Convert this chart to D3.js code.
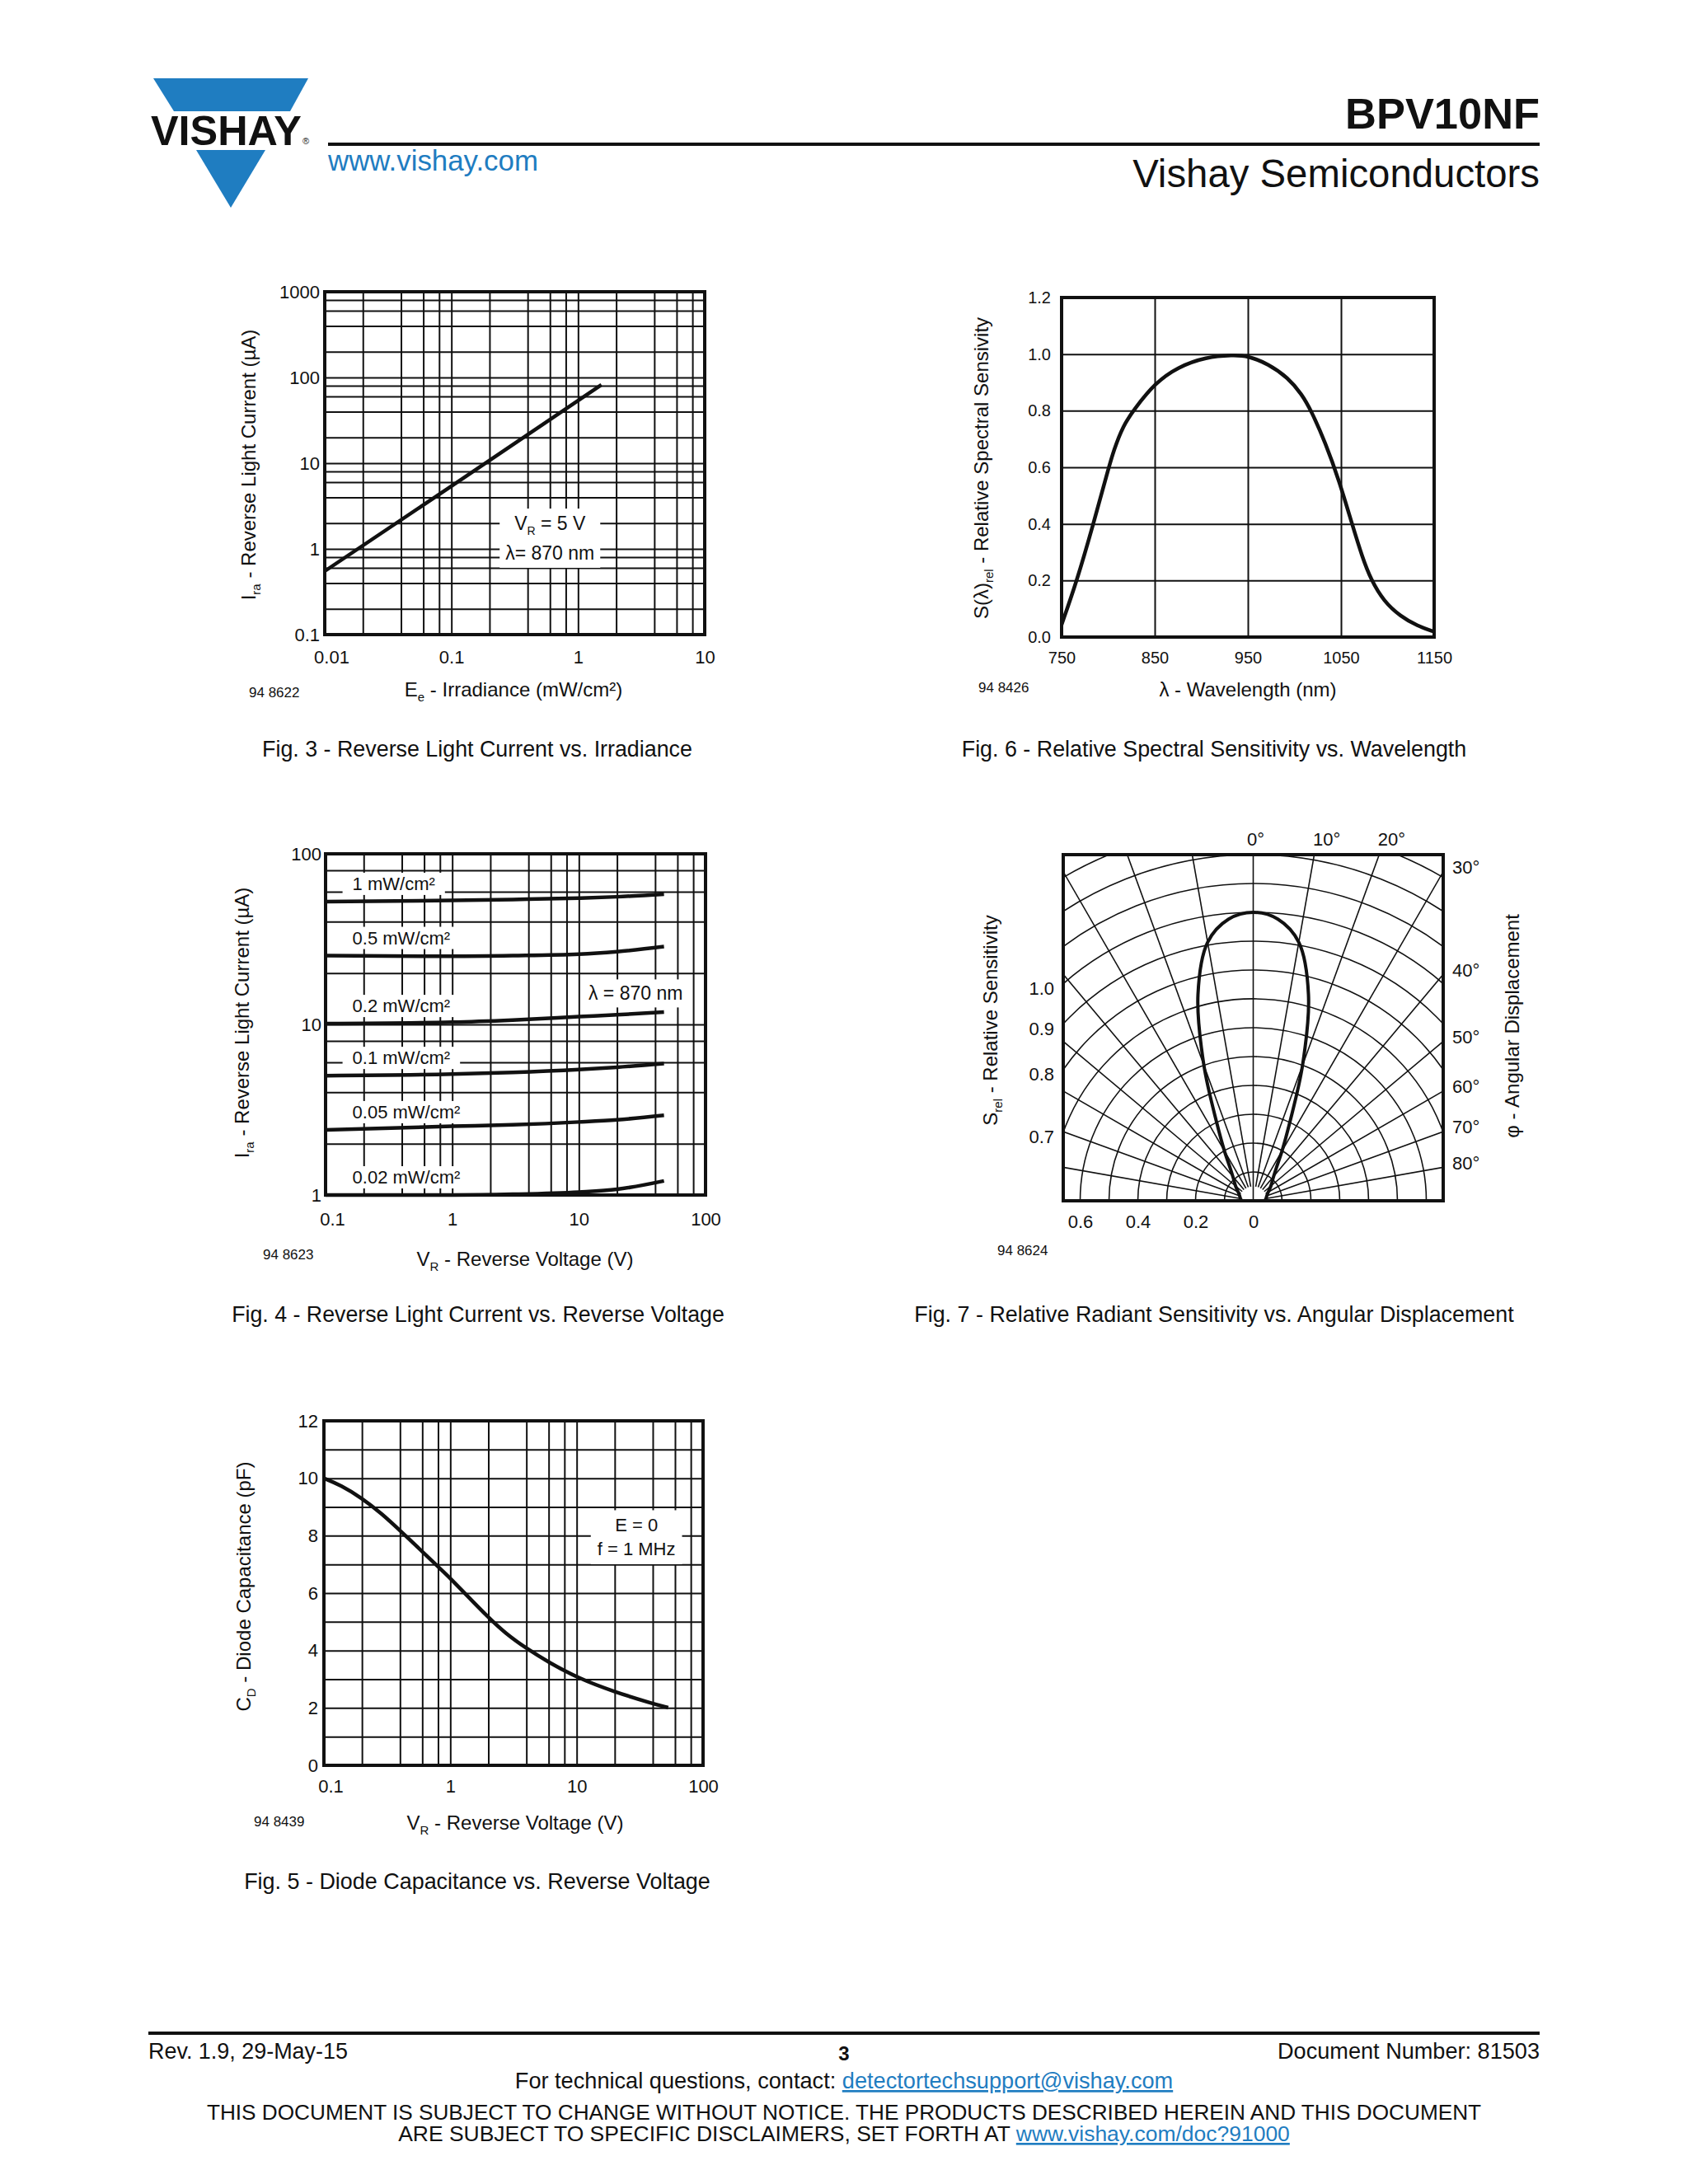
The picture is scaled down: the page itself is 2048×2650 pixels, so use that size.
<!DOCTYPE html>
<html>
<head>
<meta charset="utf-8">
<script src="https://cdn.jsdelivr.net/npm/d3@7"></script>
<style>
  body { margin: 0; background: #fff; }
  svg { display: block; }
</style>
</head>
<body>
<script>
// ---- chart data ----

// Fig. 3 - reverse light current vs irradiance (VR = 5 V)
const fig3Irradiance = [0.01, 0.1, 1.53];
const fig3Current = [0.55, 5.4, 82];

// Fig. 6 - relative spectral sensitivity
const fig6Wavelength = [750, 766, 784, 800, 806, 816, 828, 850, 875, 905, 934, 950, 972,
                        993, 1008, 1018, 1033, 1048, 1062, 1073, 1082, 1096, 1114, 1132, 1150];
const fig6Sensitivity = [0.044, 0.194, 0.398, 0.592, 0.66, 0.747, 0.805, 0.897, 0.955, 0.99, 0.997, 0.994, 0.965,
                         0.917, 0.858, 0.80, 0.689, 0.553, 0.398, 0.281, 0.204, 0.126, 0.073, 0.039, 0.019];

// Fig. 4 - reverse light current vs reverse voltage, one row per irradiance
const fig4Levels = ["1 mW/cm²", "0.5 mW/cm²", "0.2 mW/cm²", "0.1 mW/cm²", "0.05 mW/cm²", "0.02 mW/cm²"];
const fig4Voltage = [0.1, 1, 3, 10, 20, 47];
const fig4Current = [
    [52.5, 53.3, 54, 55, 56, 58],
    [25.3, 25.1, 25.3, 25.8, 26.7, 28.6],
    [10.1, 10.3, 10.6, 11.1, 11.4, 11.8],
    [5.01, 5.11, 5.23, 5.44, 5.61, 5.9],
    [2.41, 2.53, 2.58, 2.68, 2.76, 2.93],
    [1.0, 1.0, 1.01, 1.04, 1.08, 1.21]
];

// Fig. 5 - diode capacitance vs reverse voltage
const fig5Voltage = [0.1, 0.136, 0.2, 0.288, 0.4, 0.61, 0.8, 1.0, 1.35, 1.98, 2.74, 4.0, 6.0, 10, 19.8, 40, 53];
const fig5Capacitance = [10.0, 9.76, 9.31, 8.76, 8.18, 7.42, 6.92, 6.52, 5.92, 5.17, 4.59, 4.07, 3.59, 3.06, 2.56, 2.15, 2.01];

// Fig. 7 - relative sensitivity vs angle (symmetric lobe)
const fig7Angle = [0, 5, 10, 15, 20, 25, 30, 35, 40, 50, 60, 70, 80, 90];
const fig7Srel = [1.0, 0.98, 0.91, 0.74, 0.5, 0.3, 0.2, 0.14, 0.11, 0.08, 0.06, 0.05, 0.045, 0.04];

// tick labels
const fig3XTicks = [0.01, 0.1, 1, 10];
const fig3YTicks = [0.1, 1, 10, 100, 1000];
const fig6XTicks = [750, 850, 950, 1050, 1150];
const fig6YTicks = [0, 0.2, 0.4, 0.6, 0.8, 1.0, 1.2];
const fig4XTicks = [0.1, 1, 10, 100];
const fig4YTicks = [1, 10, 100];
const fig5YTicks = [0, 2, 4, 6, 8, 10, 12];
const fig7BottomTicks = [0.6, 0.4, 0.2, 0];
const fig7LeftTicks = [1.0, 0.9, 0.8, 0.7];
const fig7SideAngles = [30, 40, 50, 60, 70, 80];
const fig7TopAngles = [0, 10, 20];

// ---- page ----
const FONT = '"Liberation Sans", Arial, Helvetica, sans-serif';
const INK = "#111";
const BLUE = "#1f7dc1";
const RIGHT = 1868, MID = 1024;

const svg = d3.select("body")
    .append("svg")
    .attr("width", 2048)
    .attr("height", 2650)
    .attr("font-family", FONT)
    .attr("fill", INK);

function fitText(t, width) {
    const fs = +t.attr("font-size");
    t.attr("font-size", fs * width / t.node().getComputedTextLength());
    return t;
}

// text with subscript pieces: parts = [[string, "sub"?], ...]
function rich(t, parts, subSize, shift) {
    let down = false;
    parts.forEach(([s, kind]) => {
        const span = t.append("tspan").text(s);
        if (kind === "sub" && !down) { span.attr("font-size", subSize).attr("dy", shift); down = true; }
        else if (kind !== "sub" && down) { span.attr("dy", -shift); down = false; }
    });
    return t;
}

// header
svg.append("polygon").attr("points", "186,95 374,95 352,135 211,135").attr("fill", BLUE);
svg.append("polygon").attr("points", "238,182 322,182 280,252").attr("fill", BLUE);
fitText(svg.append("text").attr("x", 183).attr("y", 176).attr("font-size", 49)
    .attr("font-weight", "bold").text("VISHAY"), 183);
svg.append("text").attr("x", 367).attr("y", 175).attr("font-size", 11).text("®");
svg.append("line").attr("x1", 398).attr("x2", RIGHT).attr("y1", 175).attr("y2", 175)
    .attr("stroke", INK).attr("stroke-width", 4);
fitText(svg.append("text").attr("x", RIGHT).attr("y", 156).attr("text-anchor", "end")
    .attr("font-size", 51).attr("font-weight", "bold").text("BPV10NF"), 236);
fitText(svg.append("text").attr("x", 398).attr("y", 207).attr("font-size", 31)
    .attr("fill", BLUE).text("www.vishay.com"), 255);
fitText(svg.append("text").attr("x", RIGHT).attr("y", 227).attr("text-anchor", "end")
    .attr("font-size", 47).text("Vishay Semiconductors"), 494);

// ---- shared panel helpers ----
function gridStyle(sel, wd) {
    sel.select(".domain").remove();
    sel.selectAll("line").attr("stroke", INK).attr("stroke-width", wd);
}
function labelStyle(sel, fs) {
    sel.select(".domain").remove();
    sel.attr("font-family", FONT).attr("font-size", fs).attr("color", INK);
}

function gridPanel(p) {
    const g = svg.append("g").attr("transform", `translate(${p.left},${p.top})`);
    const w = p.x.range()[1], h = p.y.range()[0];
    g.append("g").attr("transform", `translate(0,${h})`)
        .call(d3.axisBottom(p.x).tickValues(p.xGrid).tickSize(-h).tickFormat(""))
        .call(gridStyle, p.gridWidth);
    g.append("g")
        .call(d3.axisLeft(p.y).tickValues(p.yGrid).tickSize(-w).tickFormat(""))
        .call(gridStyle, p.gridWidth);
    const xa = g.append("g").attr("transform", `translate(0,${h})`)
        .call(d3.axisBottom(p.x).tickValues(p.xTicks).tickFormat(p.xFormat).tickSize(0).tickPadding(p.xPad))
        .call(labelStyle, p.tickFont);
    if (p.firstDx) xa.select(".tick text").attr("dx", p.firstDx);
    g.append("g")
        .call(d3.axisLeft(p.y).tickValues(p.yTicks).tickFormat(p.yFormat).tickSize(0).tickPadding(p.yPad))
        .call(labelStyle, p.tickFont);
    return g;
}

function border(g, w, h) {
    g.append("rect").attr("width", w).attr("height", h)
        .attr("fill", "none").attr("stroke", INK).attr("stroke-width", 4);
}

function whiteBox(g, texts, padX, padY) {
    let x0 = Infinity, y0 = Infinity, x1 = -Infinity, y1 = -Infinity;
    texts.forEach(t => {
        const b = t.node().getBBox();
        x0 = Math.min(x0, b.x); y0 = Math.min(y0, b.y);
        x1 = Math.max(x1, b.x + b.width); y1 = Math.max(y1, b.y + b.height);
    });
    g.insert("rect", () => texts[0].node())
        .attr("x", x0 - padX).attr("y", y0 - padY)
        .attr("width", x1 - x0 + 2 * padX).attr("height", y1 - y0 + 2 * padY)
        .attr("fill", "#fff");
}

function yTitle(x, y, parts) {
    return rich(svg.append("text").attr("transform", `translate(${x},${y}) rotate(-90)`)
        .attr("text-anchor", "middle").attr("font-size", 24), parts, 15, 6);
}
function xTitle(x, y, parts) {
    return rich(svg.append("text").attr("x", x).attr("y", y)
        .attr("text-anchor", "middle").attr("font-size", 24), parts, 15, 6);
}
function figId(x, y, s) {
    svg.append("text").attr("x", x).attr("y", y).attr("font-size", 17).text(s);
}
function caption(cx, y, s, w) {
    fitText(svg.append("text").attr("x", cx).attr("y", y).attr("text-anchor", "middle")
        .attr("font-size", 24).text(s), w);
}

const logGrid = (lo, hi) => {
    const v = [];
    for (let d = lo; d < hi * 0.99; d *= 10) [1, 2, 4, 6, 8].forEach(m => v.push(m * d));
    v.push(hi);
    return v;
};
const plain = d => String(+d.toPrecision(3));

// ---- Fig. 3 ----
{
    const x = d3.scaleLog().domain([0.01, 10]).range([0, 461]);
    const y = d3.scaleLog().domain([0.1, 1000]).range([416, 0]);
    const g = gridPanel({
        left: 394, top: 354, x, y,
        xGrid: logGrid(0.01, 10), yGrid: logGrid(0.1, 1000),
        xTicks: fig3XTicks, yTicks: fig3YTicks, xFormat: plain, yFormat: plain,
        xPad: 19, yPad: 6, tickFont: 22, gridWidth: 2, firstDx: 8
    });
    const t1 = rich(g.append("text").attr("x", x(0.6)).attr("y", y(1.66))
        .attr("text-anchor", "middle").attr("font-size", 23), [["V"], ["R", "sub"], [" = 5 V"]], 14, 6);
    const t2 = g.append("text").attr("x", x(0.6)).attr("y", y(0.75))
        .attr("text-anchor", "middle").attr("font-size", 23).text("λ= 870 nm");
    whiteBox(g, [t1, t2], 7, 5);
    g.append("path")
        .datum(fig3Irradiance.map((e, i) => [e, fig3Current[i]]))
        .attr("fill", "none").attr("stroke", INK).attr("stroke-width", 4.5)
        .attr("d", d3.line().x(d => x(d[0])).y(d => y(d[1])));
    border(g, 461, 416);
    yTitle(310, 564, [["I"], ["ra", "sub"], [" - Reverse Light Current (µA)"]]);
    xTitle(623, 845, [["E"], ["e", "sub"], [" - Irradiance (mW/cm²)"]]);
    figId(302, 846, "94 8622");
    caption(579, 918, "Fig. 3 - Reverse Light Current vs. Irradiance", 522);
}

// ---- Fig. 6 ----
{
    const x = d3.scaleLinear().domain([750, 1150]).range([0, 452]);
    const y = d3.scaleLinear().domain([0, 1.2]).range([412, 0]);
    const g = gridPanel({
        left: 1288, top: 361, x, y,
        xGrid: fig6XTicks, yGrid: fig6YTicks,
        xTicks: fig6XTicks, yTicks: fig6YTicks, xFormat: d3.format("d"), yFormat: d3.format(".1f"),
        xPad: 18, yPad: 13, tickFont: 20, gridWidth: 2
    });
    g.append("path")
        .datum(fig6Wavelength.map((w, i) => [w, fig6Sensitivity[i]]))
        .attr("fill", "none").attr("stroke", INK).attr("stroke-width", 4.5)
        .attr("d", d3.line().x(d => x(d[0])).y(d => y(d[1])).curve(d3.curveBasis));
    border(g, 452, 412);
    yTitle(1199, 568, [["S(λ)"], ["rel", "sub"], [" - Relative Spectral Sensivity"]]);
    xTitle(1514, 845, [["λ - Wavelength (nm)"]]);
    figId(1187, 840, "94 8426");
    caption(1473, 918, "Fig. 6 - Relative Spectral Sensitivity vs. Wavelength", 613);
}

// ---- Fig. 4 ----
{
    const x = d3.scaleLog().domain([0.1, 100]).range([0, 461]);
    const y = d3.scaleLog().domain([1, 100]).range([414, 0]);
    const g = gridPanel({
        left: 395, top: 1036, x, y,
        xGrid: logGrid(0.1, 100), yGrid: logGrid(1, 100),
        xTicks: fig4XTicks, yTicks: fig4YTicks, xFormat: plain, yFormat: plain,
        xPad: 21, yPad: 5, tickFont: 22, gridWidth: 2, firstDx: 8
    });
    const line = d3.line().x(d => x(d[0])).y(d => y(d[1])).curve(d3.curveMonotoneX);
    fig4Current.forEach((row, k) => {
        const t = g.append("text").attr("x", x(0.163)).attr("y", y(row[0]) - 14)
            .attr("font-size", 22).text(fig4Levels[k]);
        whiteBox(g, [t], 12, 1);
        g.append("path")
            .datum(fig4Voltage.map((v, i) => [v, row[i]]))
            .attr("fill", "none").attr("stroke", INK).attr("stroke-width", 4.5)
            .attr("d", line);
    });
    const lam = g.append("text").attr("x", x(11.9)).attr("y", y(13.9))
        .attr("font-size", 23).text("λ = 870 nm");
    whiteBox(g, [lam], 6, 4);
    border(g, 461, 414);
    yTitle(302, 1241, [["I"], ["ra", "sub"], [" - Reverse Light Current (µA)"]]);
    xTitle(637, 1536, [["V"], ["R", "sub"], [" - Reverse Voltage (V)"]]);
    figId(319, 1528, "94 8623");
    caption(580, 1604, "Fig. 4 - Reverse Light Current vs. Reverse Voltage", 598);
}

// ---- Fig. 7 ----
{
    const left = 1290, top = 1037, w = 461, h = 420;
    const cx = left + w / 2, cy = top + h, half = w / 2;
    const r = d3.scaleLinear().domain([0, 1.2]).range([0, h]);
    const deg = Math.PI / 180;

    svg.append("clipPath").attr("id", "fig7clip")
        .append("rect").attr("x", left).attr("y", top).attr("width", w).attr("height", h);
    const g = svg.append("g").attr("clip-path", "url(#fig7clip)");
    const grid = g.append("g").attr("transform", `translate(${cx},${cy})`)
        .attr("fill", "none").attr("stroke", INK).attr("stroke-width", 1.6);

    d3.range(1, 14).map(i => i / 10).forEach(v => {
        const p = d3.path();
        p.moveTo(-r(v), 0);
        p.arc(0, 0, r(v), Math.PI, 2 * Math.PI);
        grid.append("path").attr("d", p.toString());
    });
    d3.range(-90, 91, 10).forEach(a => {
        const r0 = a === 0 ? 0 : r(0.05);
        grid.append("line")
            .attr("x1", Math.sin(a * deg) * r0).attr("y1", -Math.cos(a * deg) * r0)
            .attr("x2", Math.sin(a * deg) * 700).attr("y2", -Math.cos(a * deg) * 700);
    });

    const lobe = [];
    for (let i = fig7Angle.length - 1; i > 0; i--) lobe.push([-fig7Angle[i], fig7Srel[i]]);
    fig7Angle.forEach((a, i) => lobe.push([a, fig7Srel[i]]));
    g.append("path").datum(lobe)
        .attr("transform", `translate(${cx},${cy})`)
        .attr("fill", "none").attr("stroke", INK).attr("stroke-width", 4)
        .attr("d", d3.lineRadial().angle(d => d[0] * deg).radius(d => r(d[1])).curve(d3.curveCatmullRom));

    svg.append("rect").attr("x", left).attr("y", top).attr("width", w).attr("height", h)
        .attr("fill", "none").attr("stroke", INK).attr("stroke-width", 4);

    // bottom scale of relative sensitivity
    const rb = d3.scaleLinear().domain([0, 1.2]).range([cx, cx - h]);
    svg.append("g").attr("transform", `translate(0,${cy})`)
        .call(d3.axisBottom(rb).tickValues(fig7BottomTicks).tickSize(0).tickPadding(17)
            .tickFormat(d => d === 0 ? "0" : d3.format(".1f")(d)))
        .call(labelStyle, 22);

    // left labels where the circles meet the frame
    svg.append("g").attr("font-size", 22).attr("text-anchor", "end")
        .selectAll("text").data(fig7LeftTicks).join("text")
        .attr("x", left - 11)
        .attr("y", v => cy - Math.sqrt(r(v) ** 2 - half ** 2))
        .attr("dy", "0.6em")
        .text(d3.format(".1f"));

    // angle labels at the spoke ends
    svg.append("g").attr("font-size", 22)
        .selectAll("text").data(fig7SideAngles).join("text")
        .attr("x", left + w + 11)
        .attr("y", a => cy - half / Math.tan(a * deg))
        .attr("dy", "0.1em")
        .text(a => a + "°");
    svg.append("g").attr("font-size", 22).attr("text-anchor", "middle")
        .selectAll("text").data(fig7TopAngles).join("text")
        .attr("x", a => cx + h * Math.tan(a * deg) + (a === 0 ? 3 : 15))
        .attr("y", top - 11)
        .text(a => a + "°");

    yTitle(1210, 1238, [["S"], ["rel", "sub"], [" - Relative Sensitivity"]]);
    yTitle(1843, 1245, [["φ - Angular Displacement"]]);
    figId(1210, 1523, "94 8624");
    caption(1473, 1604, "Fig. 7 - Relative Radiant Sensitivity vs. Angular Displacement", 728);
}

// ---- Fig. 5 ----
{
    const x = d3.scaleLog().domain([0.1, 100]).range([0, 460]);
    const y = d3.scaleLinear().domain([0, 12]).range([418, 0]);
    const g = gridPanel({
        left: 393, top: 1724, x, y,
        xGrid: logGrid(0.1, 100), yGrid: d3.range(0, 13),
        xTicks: fig4XTicks, yTicks: fig5YTicks, xFormat: plain, yFormat: d3.format("d"),
        xPad: 17, yPad: 7, tickFont: 22, gridWidth: 2, firstDx: 8
    });
    const t1 = g.append("text").attr("x", x(29.7)).attr("y", y(8.14))
        .attr("text-anchor", "middle").attr("font-size", 22).text("E = 0");
    const t2 = g.append("text").attr("x", x(29.7)).attr("y", y(7.32))
        .attr("text-anchor", "middle").attr("font-size", 22).text("f = 1 MHz");
    whiteBox(g, [t1, t2], 8, 6);
    g.append("path")
        .datum(fig5Voltage.map((v, i) => [v, fig5Capacitance[i]]))
        .attr("fill", "none").attr("stroke", INK).attr("stroke-width", 4.5)
        .attr("d", d3.line().x(d => x(d[0])).y(d => y(d[1])).curve(d3.curveBasis));
    border(g, 460, 418);
    yTitle(304, 1925, [["C"], ["D", "sub"], [" - Diode Capacitance (pF)"]]);
    xTitle(625, 2220, [["V"], ["R", "sub"], [" - Reverse Voltage (V)"]]);
    figId(308, 2216, "94 8439");
    caption(579, 2292, "Fig. 5 - Diode Capacitance vs. Reverse Voltage", 566);
}

// ---- footer ----
svg.append("line").attr("x1", 180).attr("x2", RIGHT).attr("y1", 2467).attr("y2", 2467)
    .attr("stroke", INK).attr("stroke-width", 4);
fitText(svg.append("text").attr("x", 180).attr("y", 2498).attr("font-size", 23)
    .text("Rev. 1.9, 29-May-15"), 242);
svg.append("text").attr("x", MID).attr("y", 2500).attr("text-anchor", "middle")
    .attr("font-size", 24).attr("font-weight", "bold").text("3");
fitText(svg.append("text").attr("x", RIGHT).attr("y", 2498).attr("text-anchor", "end")
    .attr("font-size", 23).text("Document Number: 81503"), 318);

const contact = svg.append("text").attr("x", MID).attr("y", 2534)
    .attr("text-anchor", "middle").attr("font-size", 23);
contact.append("tspan").text("For technical questions, contact: ");
contact.append("tspan").attr("fill", BLUE).attr("text-decoration", "underline")
    .text("detectortechsupport@vishay.com");
fitText(contact, 799);

fitText(svg.append("text").attr("x", MID).attr("y", 2572).attr("text-anchor", "middle")
    .attr("font-size", 23)
    .text("THIS DOCUMENT IS SUBJECT TO CHANGE WITHOUT NOTICE. THE PRODUCTS DESCRIBED HEREIN AND THIS DOCUMENT"), 1547);
const disc = svg.append("text").attr("x", MID).attr("y", 2598)
    .attr("text-anchor", "middle").attr("font-size", 23);
disc.append("tspan").text("ARE SUBJECT TO SPECIFIC DISCLAIMERS, SET FORTH AT ");
disc.append("tspan").attr("fill", BLUE).attr("text-decoration", "underline")
    .text("www.vishay.com/doc?91000");
fitText(disc, 1082);
</script>
</body>
</html>
